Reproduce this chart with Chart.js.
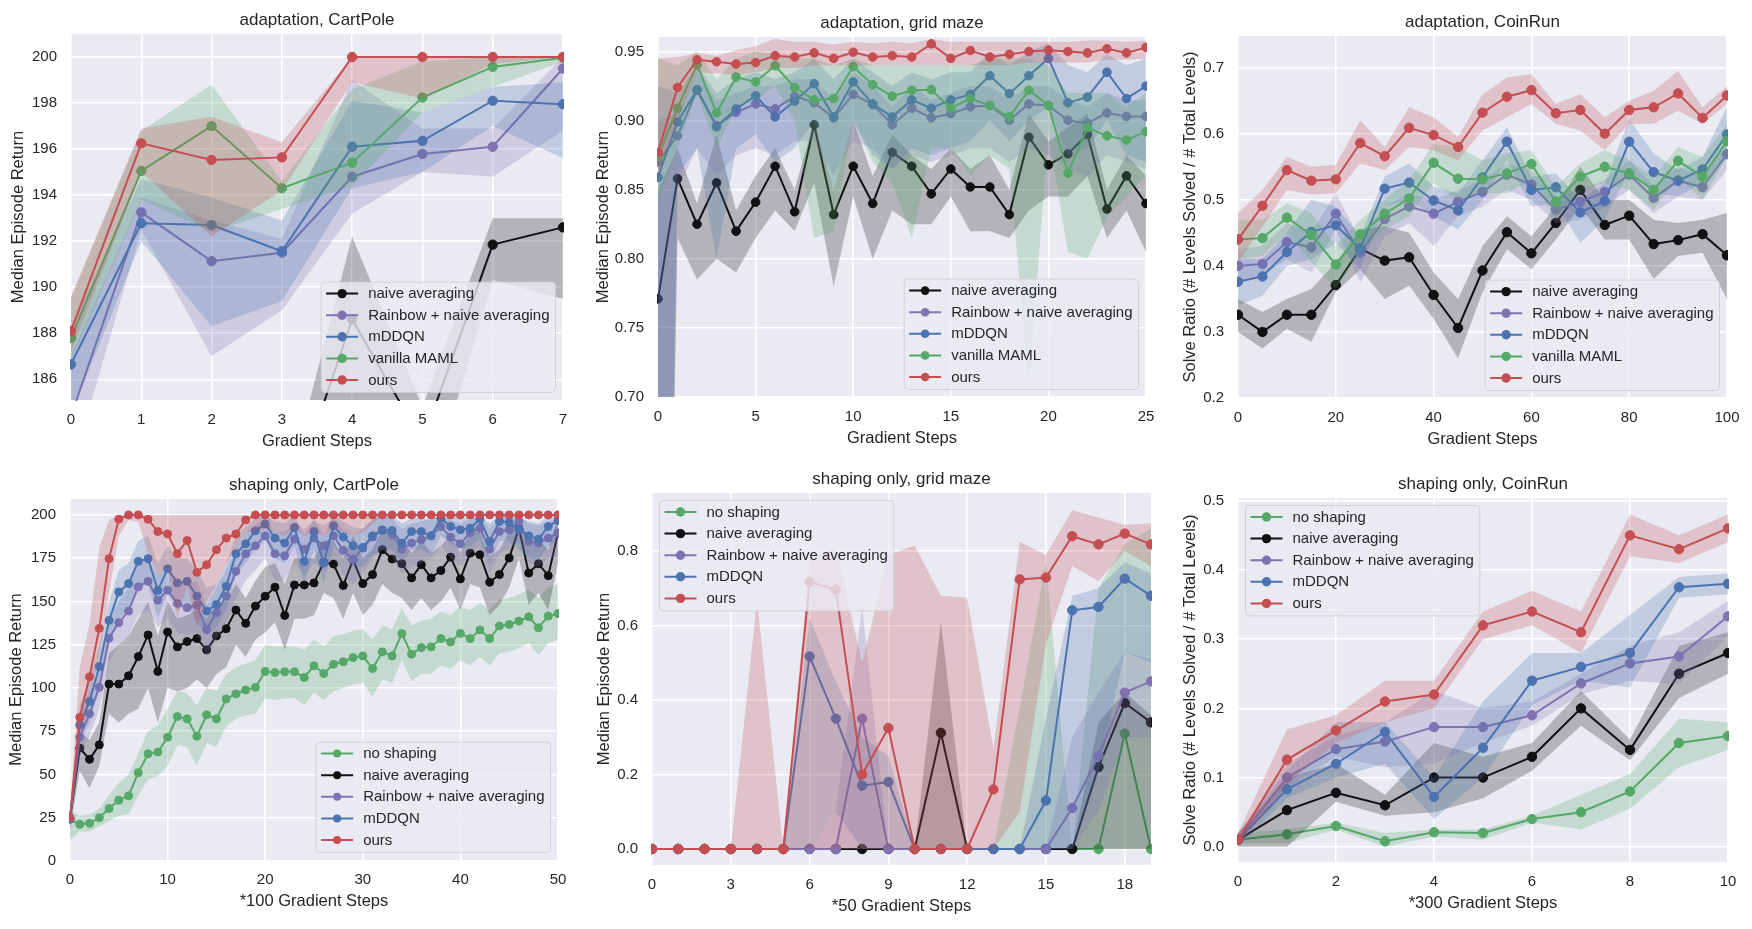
<!DOCTYPE html>
<html><head><meta charset="utf-8">
<script src="https://cdn.jsdelivr.net/npm/chart.js@4.4.1/dist/chart.umd.min.js"></script>
<style>
html,body{margin:0;padding:0;background:#fff;}
body{width:1752px;height:929px;position:relative;overflow:hidden;}
canvas{position:absolute;}
</style>
</head><body>
<script>
// ---------------- DATA ----------------
// Panel 1: adaptation, CartPole
const cpAdaptSteps = [0,1,2,3,4,5,6,7];
const cpAdaptNaive   = [null,null,null,179.6,188.6,183.3,191.85,192.6];
const cpAdaptNaiveLo = [null,null,null,176,181,180,190.3,189.5];
const cpAdaptNaiveHi = [null,null,null,180.4,192.2,184.8,193.0,193.0];
const cpAdaptRainbow   = [184.4,193.25,191.13,191.5,194.8,195.79,196.1,199.5];
const cpAdaptRainbowLo = [182,192.5,187.0,189.0,193.2,195.0,194.8,196.8];
const cpAdaptRainbowHi = [187,193.9,192.9,192.1,199.0,196.9,196.9,200];
const cpAdaptMddqn   = [186.65,192.78,192.7,191.56,196.1,196.36,198.1,197.95];
const cpAdaptMddqnLo = [184.5,192.0,188.3,189.4,194.3,195.0,197.0,195.6];
const cpAdaptMddqnHi = [188.3,194.7,193.9,192.9,198.1,197.6,198.7,198.9];
const cpAdaptMaml   = [187.8,195.05,197.0,194.3,195.41,198.24,199.57,199.97];
const cpAdaptMamlLo = [186.8,193.8,192.4,193.4,194.4,197.6,198.7,199.8];
const cpAdaptMamlHi = [189.5,196.8,198.8,194.6,198.6,199.8,200,200];
const cpAdaptOurs   = [188.1,196.25,195.53,195.64,200,200,200,200];
const cpAdaptOursLo = [187.2,195.0,192.2,194.2,198.9,198.2,199.7,200];
const cpAdaptOursHi = [189.6,196.9,197.4,196.3,200,200,200,200];
const cpAdaptYTicks = [186,188,190,192,194,196,198,200];
const cpAdaptYLabels = ['186','188','190','192','194','196','198','200'];
const cpAdaptXTicks = [0,1,2,3,4,5,6,7];
const cpAdaptXLabels = ['0','1','2','3','4','5','6','7'];

// Panel 2: adaptation, grid maze
const gmAdaptSteps = [0,1,2,3,4,5,6,7,8,9,10,11,12,13,14,15,16,17,18,19,20,21,22,23,24,25];
const gmAdaptNaive   = [0.771,0.858,0.825,0.855,0.820,0.841,0.867,0.834,0.897,0.832,0.867,0.840,0.877,0.867,0.847,0.865,0.852,0.852,0.832,0.888,0.868,0.876,0.890,0.836,0.860,0.840];
const gmAdaptNaiveLo = [0.0,0.815,0.785,0.80,0.79,0.815,0.835,0.82,0.855,0.78,0.845,0.80,0.835,0.825,0.825,0.845,0.82,0.82,0.815,0.835,0.845,0.845,0.86,0.815,0.835,0.805];
const gmAdaptNaiveHi = [0.85,0.88,0.84,0.89,0.835,0.86,0.88,0.85,0.90,0.85,0.90,0.86,0.89,0.875,0.865,0.88,0.865,0.875,0.85,0.905,0.885,0.895,0.905,0.85,0.875,0.86];
const gmAdaptRainbow   = [0.87,0.889,0.922,0.8965,0.906,0.912,0.9085,0.9176,0.913,0.902,0.919,0.9116,0.897,0.909,0.902,0.905,0.91,0.911,0.9003,0.912,0.911,0.9003,0.898,0.9056,0.903,0.903];
const gmAdaptRainbowLo = [0.05,0.85,0.88,0.86,0.875,0.88,0.875,0.885,0.885,0.86,0.885,0.88,0.865,0.875,0.87,0.875,0.88,0.88,0.87,0.88,0.875,0.865,0.86,0.875,0.87,0.865];
const gmAdaptRainbowHi = [0.90,0.905,0.935,0.915,0.92,0.925,0.925,0.93,0.93,0.915,0.935,0.925,0.91,0.925,0.915,0.92,0.925,0.925,0.915,0.925,0.925,0.915,0.91,0.92,0.915,0.915];
const gmAdaptMddqn   = [0.859,0.899,0.9224,0.8955,0.9085,0.918,0.9027,0.914,0.9267,0.9027,0.928,0.912,0.9027,0.915,0.909,0.915,0.919,0.9325,0.9195,0.9325,0.945,0.913,0.917,0.935,0.916,0.925];
const gmAdaptMddqnLo = [0.05,0.86,0.88,0.80,0.88,0.89,0.87,0.88,0.90,0.85,0.90,0.875,0.865,0.88,0.875,0.88,0.885,0.90,0.885,0.90,0.91,0.875,0.88,0.90,0.875,0.87];
const gmAdaptMddqnHi = [0.925,0.92,0.94,0.92,0.93,0.935,0.93,0.935,0.945,0.93,0.945,0.935,0.925,0.935,0.93,0.935,0.935,0.95,0.94,0.95,0.956,0.94,0.935,0.948,0.94,0.945];
const gmAdaptMaml   = [0.874,0.909,0.9404,0.9056,0.9315,0.928,0.9397,0.924,0.915,0.916,0.939,0.926,0.9176,0.922,0.9224,0.909,0.916,0.911,0.9027,0.922,0.911,0.862,0.895,0.889,0.886,0.892];
const gmAdaptMamlLo = [0.84,0.88,0.92,0.88,0.91,0.915,0.925,0.90,0.815,0.82,0.90,0.87,0.855,0.815,0.88,0.88,0.86,0.875,0.865,0.71,0.89,0.805,0.80,0.83,0.845,0.86];
const gmAdaptMamlHi = [0.945,0.94,0.95,0.93,0.945,0.95,0.948,0.945,0.945,0.94,0.945,0.94,0.94,0.94,0.94,0.94,0.94,0.945,0.945,0.945,0.94,0.92,0.92,0.92,0.91,0.92];
const gmAdaptOurs   = [0.877,0.924,0.944,0.9426,0.941,0.942,0.947,0.946,0.949,0.945,0.9495,0.946,0.947,0.946,0.9555,0.945,0.9507,0.946,0.948,0.950,0.951,0.950,0.949,0.952,0.949,0.953];
const gmAdaptOursLo = [0.86,0.90,0.935,0.934,0.933,0.935,0.938,0.938,0.94,0.94,0.94,0.94,0.94,0.94,0.94,0.94,0.94,0.94,0.94,0.942,0.942,0.942,0.942,0.944,0.944,0.945];
const gmAdaptOursHi = [0.945,0.946,0.949,0.947,0.951,0.954,0.959,0.957,0.957,0.955,0.957,0.956,0.957,0.956,0.959,0.957,0.957,0.957,0.957,0.957,0.957,0.957,0.958,0.958,0.957,0.958];
const gmAdaptYTicks = [0.70,0.75,0.80,0.85,0.90,0.95];
const gmAdaptYLabels = ['0.70','0.75','0.80','0.85','0.90','0.95'];
const gmAdaptXTicks = [0,5,10,15,20,25];
const gmAdaptXLabels = ['0','5','10','15','20','25'];

// Panel 3: adaptation, CoinRun
const crAdaptSteps = [0,5,10,15,20,25,30,35,40,45,50,55,60,65,70,75,80,85,90,95,100];
const crAdaptNaive   = [0.326,0.300,0.326,0.326,0.371,0.426,0.408,0.413,0.356,0.306,0.393,0.451,0.419,0.465,0.515,0.462,0.476,0.433,0.439,0.448,0.416];
const crAdaptNaiveLo = [0.30,0.275,0.305,0.285,0.36,0.395,0.35,0.37,0.32,0.26,0.36,0.425,0.395,0.44,0.49,0.44,0.44,0.38,0.415,0.42,0.35];
const crAdaptNaiveHi = [0.35,0.33,0.35,0.365,0.405,0.455,0.46,0.45,0.39,0.35,0.43,0.475,0.445,0.49,0.55,0.50,0.50,0.47,0.465,0.47,0.48];
const crAdaptRainbow   = [0.40,0.403,0.436,0.428,0.479,0.42,0.471,0.49,0.479,0.497,0.512,0.538,0.523,0.485,0.497,0.512,0.538,0.503,0.529,0.519,0.569];
const crAdaptRainbowLo = [0.375,0.385,0.41,0.39,0.455,0.375,0.445,0.465,0.43,0.475,0.49,0.515,0.50,0.465,0.47,0.49,0.515,0.48,0.505,0.50,0.545];
const crAdaptRainbowHi = [0.425,0.43,0.465,0.45,0.51,0.44,0.49,0.51,0.50,0.515,0.53,0.555,0.545,0.505,0.515,0.53,0.56,0.52,0.55,0.535,0.585];
const crAdaptMddqn   = [0.376,0.384,0.421,0.4515,0.4616,0.426,0.517,0.526,0.499,0.484,0.534,0.588,0.515,0.519,0.481,0.498,0.588,0.542,0.529,0.546,0.599];
const crAdaptMddqnLo = [0.34,0.355,0.40,0.41,0.435,0.395,0.49,0.50,0.475,0.455,0.50,0.56,0.49,0.495,0.435,0.47,0.545,0.51,0.505,0.525,0.565];
const crAdaptMddqnHi = [0.41,0.41,0.45,0.50,0.49,0.445,0.535,0.555,0.52,0.51,0.56,0.61,0.535,0.54,0.50,0.525,0.622,0.57,0.545,0.565,0.64];
const crAdaptMaml   = [0.44,0.442,0.473,0.447,0.402,0.448,0.479,0.502,0.556,0.532,0.531,0.540,0.554,0.497,0.535,0.550,0.540,0.515,0.559,0.535,0.589];
const crAdaptMamlLo = [0.41,0.415,0.45,0.405,0.365,0.42,0.455,0.475,0.525,0.50,0.51,0.51,0.53,0.47,0.515,0.525,0.515,0.485,0.535,0.50,0.565];
const crAdaptMamlHi = [0.47,0.47,0.495,0.48,0.43,0.47,0.50,0.53,0.585,0.58,0.56,0.57,0.575,0.52,0.555,0.575,0.56,0.535,0.58,0.565,0.615];
const crAdaptOurs   = [0.44,0.491,0.545,0.529,0.531,0.586,0.566,0.609,0.598,0.58,0.632,0.656,0.666,0.631,0.636,0.60,0.636,0.64,0.661,0.624,0.658];
const crAdaptOursLo = [0.405,0.46,0.515,0.508,0.51,0.555,0.545,0.58,0.575,0.56,0.605,0.625,0.645,0.615,0.605,0.575,0.615,0.615,0.635,0.615,0.645];
const crAdaptOursHi = [0.48,0.515,0.565,0.55,0.553,0.62,0.58,0.64,0.625,0.595,0.66,0.685,0.69,0.645,0.66,0.625,0.65,0.665,0.695,0.64,0.672];
const crAdaptYTicks = [0.2,0.3,0.4,0.5,0.6,0.7];
const crAdaptYLabels = ['0.2','0.3','0.4','0.5','0.6','0.7'];
const crAdaptXTicks = [0,20,40,60,80,100];
const crAdaptXLabels = ['0','20','40','60','80','100'];

// Panel 4: shaping only, CartPole
const cpShapeSteps = [0,1,2,3,4,5,6,7,8,9,10,11,12,13,14,15,16,17,18,19,20,21,22,23,24,25,26,27,28,29,30,31,32,33,34,35,36,37,38,39,40,41,42,43,44,45,46,47,48,49,50];
const cpShapeNoShaping   = [24,21.1,21.7,24.9,30.3,35.1,37.6,51,61.9,62.9,71.5,83.4,82.1,72.1,84.4,82.1,93.6,96.5,98.8,100.3,109.5,108.9,109.3,109.3,106,112.8,108.3,113.7,115.1,117.5,118.5,111.2,120.8,118.5,131.4,119.5,123.3,123.7,128.5,126.6,131.5,128.5,133.5,128.5,135.8,136.7,138.6,141.1,134.8,141.5,143];
const cpShapeNoShapingLo = [12,17,17,20,23,26,27,38,47,49,55,67,66,55,68,66,78,82,84,85,94,93,94,94,90,97,93,98,100,102,103,95,105,103,116,104,108,108,113,111,116,113,118,113,120,121,123,126,119,126,128];
const cpShapeNoShapingHi = [30,26,27,30,38,45,50,62,75,78,88,98,97,90,100,98,108,112,114,116,125,124,124,124,122,128,124,130,131,133,134,128,136,134,146,136,139,140,144,142,147,145,149,145,151,152,154,157,152,158,160];
const cpShapeNaive   = [24.5,65.2,58.7,67.1,102.2,102.2,107,118.1,130.6,109.5,132.3,123.7,126.8,128.5,122,130,134.2,145,137.3,147.3,153,158.2,141.9,159.5,159.5,160.7,172.6,171.6,159.2,174.1,160.3,165.5,179.9,174.5,171.8,163.6,171.2,163.6,167.8,175.6,163,177.9,177,161.1,165.5,175.1,192.3,166.4,171.8,164.9,189.5];
const cpShapeNaiveLo = [18,52,42,55,85,80,85,88,100,80,100,98,100,105,100,108,112,125,118,128,132,138,122,140,140,142,155,152,140,155,142,148,160,155,152,145,152,145,150,158,145,160,158,142,148,158,175,148,155,145,172];
const cpShapeNaiveHi = [28,75,70,80,120,125,130,140,150,130,150,140,142,145,140,148,150,160,152,162,170,172,160,175,175,175,185,185,175,188,175,180,192,188,185,178,185,178,182,188,178,190,190,176,180,190,200,182,186,180,198];
const cpShapeRainbow   = [24.5,71.5,85,100.3,128.7,137.7,144.4,158.4,161.6,150.7,156.5,148.8,146.3,147.8,133.8,143.4,153,167.4,177.6,182.2,187.9,177.6,176.4,186,180.2,186.6,182.2,187.9,179.5,174.1,180.8,187.2,191,188.5,180.2,183.7,185.6,187.9,193.3,187.2,183.3,189.8,192.3,180.2,190.4,191.4,196.2,184.7,183.7,186.6,189.5];
const cpShapeRainbowLo = [20,60,72,88,115,125,130,142,145,135,140,132,130,132,118,128,138,152,162,168,175,162,162,172,165,172,168,175,165,160,166,175,180,176,166,170,172,175,182,175,170,178,182,166,178,180,185,172,170,175,176];
const cpShapeRainbowHi = [28,82,98,112,140,150,158,172,175,165,170,162,160,162,148,158,168,180,190,194,198,190,190,196,192,196,194,198,192,188,192,197,200,198,192,195,196,198,200,197,195,198,200,192,199,200,200,195,194,196,198];
const cpShapeMddqn   = [24.5,78.6,92.2,112.4,139,155.5,160.3,173.2,174.7,156.3,168.9,160.7,161.6,153,144.4,148.2,158.8,177.6,183.3,190.8,194.8,186.6,183.7,192.7,173.2,190.4,172.3,193.7,187.2,182.2,181.2,187.9,191.4,191,183.7,190.4,190.4,187.9,198.1,193.3,191.4,192.3,197.5,184.7,196.2,195.6,191.4,187.9,186,193.3,196.7];
const cpShapeMddqnLo = [20,68,80,100,125,140,145,160,160,140,155,145,148,138,130,135,145,165,172,180,185,175,172,182,160,180,160,182,176,170,170,177,180,180,172,180,180,177,188,183,180,182,186,172,185,185,180,175,174,182,185];
const cpShapeMddqnHi = [28,90,105,125,150,168,172,185,188,172,182,175,175,168,158,160,172,188,193,198,200,196,195,200,188,198,188,200,196,193,192,197,200,200,195,198,198,197,200,200,198,199,200,195,200,200,199,196,195,199,200];
const cpShapeOurs   = [25,83,106.4,134.4,174.7,197.5,200,200,197.5,190.4,189,177.6,185.2,166.8,171.2,179.9,186.6,189,197.1,200,200,200,200,200,200,200,200,200,200,200,200,200,200,200,200,200,200,200,200,200,200,200,200,200,200,200,200,200,200,200,200];
const cpShapeOursLo = [20,68,95,118,155,188,197,196,178,165,170,140,160,135,150,160,172,180,190,190,192,190,188,192,188,190,188,192,190,188,190,195,200,200,200,200,200,200,200,200,200,200,200,200,200,200,200,200,200,200,200];
const cpShapeOursHi = [28,112,137,181,197,200,200,200,200,200,200,200,200,200,200,200,200,200,200,200,200,200,200,200,200,200,200,200,200,200,200,200,200,200,200,200,200,200,200,200,200,200,200,200,200,200,200,200,200,200,200];
const cpShapeYTicks = [0,25,50,75,100,125,150,175,200];
const cpShapeYLabels = ['0','25','50','75','100','125','150','175','200'];
const cpShapeXTicks = [0,10,20,30,40,50];
const cpShapeXLabels = ['0','10','20','30','40','50'];

// Panel 5: shaping only, grid maze
const gmShapeSteps = [0,1,2,3,4,5,6,7,8,9,10,11,12,13,14,15,16,17,18,19];
const gmShapeNoShaping   = [0,0,0,0,0,0,0,0,0,0,0,0,0,0,0,0,0,0,0.31,0];
const gmShapeNoShapingLo = [0,0,0,0,0,0,0,0,0,0,0,0,0,0,0,0,0,0,0,0];
const gmShapeNoShapingHi = [0,0,0,0,0,0,0,0,0,0,0,0,0,0,0.38,0.77,0,0.7,0.82,0.86];
const gmShapeNaive   = [0,0,0,0,0,0,0,0,0,0,0,0.312,0,0,0,0,0,0.22,0.392,0.34];
const gmShapeNaiveLo = [0,0,0,0,0,0,0,0,0,0,0,0,0,0,0,0,0,0,0,0];
const gmShapeNaiveHi = [0,0,0,0,0,0,0,0,0,0,0,0.61,0,0,0,0,0,0.34,0.42,0.36];
const gmShapeRainbow   = [0,0,0,0,0,0,0,0,0.35,0,0,0,0,0,0,0,0.11,0.25,0.42,0.45];
const gmShapeRainbowLo = [0,0,0,0,0,0,0,0,0,0,0,0,0,0,0,0,0,0.1,0.3,0.3];
const gmShapeRainbowHi = [0,0,0,0,0,0,0,0.1,0.65,0,0,0,0,0,0,0,0.3,0.42,0.53,0.51];
const gmShapeMddqn   = [0,0,0,0,0,0,0.517,0.35,0.17,0.18,0,0,0,0,0,0.13,0.641,0.65,0.726,0.68];
const gmShapeMddqnLo = [0,0,0,0,0,0,0,0.1,0,0,0,0,0,0,0,0,0,0.2,0.53,0.5];
const gmShapeMddqnHi = [0,0,0,0,0,0,0.62,0.45,0.3,0.25,0,0,0,0,0,0.35,0.68,0.70,0.77,0.74];
const gmShapeOurs   = [0,0,0,0,0,0,0.717,0.697,0.20,0.325,0,0,0,0.16,0.724,0.729,0.84,0.818,0.847,0.818];
const gmShapeOursLo = [0,0,0,0,0,0,0,0,0,0,0,0,0,0,0.1,0.55,0.76,0.72,0.80,0.76];
const gmShapeOursHi = [0,0,0,0,0.67,0,0.78,0.81,0.5,0.79,0.815,0.68,0.675,0.27,0.825,0.79,0.91,0.89,0.87,0.875];
const gmShapeYTicks = [0,0.2,0.4,0.6,0.8];
const gmShapeYLabels = ['0.0','0.2','0.4','0.6','0.8'];
const gmShapeXTicks = [0,3,6,9,12,15,18];
const gmShapeXLabels = ['0','3','6','9','12','15','18'];

// Panel 6: shaping only, CoinRun
const crShapeSteps = [0,1,2,3,4,5,6,7,8,9,10];
const crShapeNoShaping   = [0.01,0.018,0.03,0.008,0.021,0.02,0.04,0.05,0.08,0.15,0.16];
const crShapeNoShapingLo = [0.005,0.005,0.025,0.0,0.015,0.01,0.035,0.025,0.055,0.115,0.14];
const crShapeNoShapingHi = [0.02,0.025,0.035,0.02,0.025,0.025,0.045,0.075,0.105,0.185,0.18];
const crShapeNaive   = [0.01,0.053,0.078,0.06,0.1,0.1,0.13,0.2,0.14,0.25,0.28];
const crShapeNaiveLo = [0,0.0,0.065,0.045,0.05,0.07,0.11,0.175,0.125,0.215,0.25];
const crShapeNaiveHi = [0.02,0.1,0.12,0.075,0.15,0.13,0.15,0.225,0.155,0.29,0.31];
const crShapeRainbow   = [0.01,0.1,0.141,0.152,0.173,0.173,0.19,0.236,0.265,0.275,0.333];
const crShapeRainbowLo = [0.005,0.085,0.13,0.115,0.12,0.15,0.175,0.22,0.24,0.235,0.305];
const crShapeRainbowHi = [0.015,0.12,0.16,0.18,0.225,0.20,0.21,0.25,0.29,0.31,0.355];
const crShapeMddqn   = [0.01,0.083,0.12,0.166,0.072,0.143,0.24,0.26,0.28,0.375,0.38];
const crShapeMddqnLo = [0,0.07,0.1,0.12,0.04,0.10,0.205,0.24,0.23,0.36,0.365];
const crShapeMddqnHi = [0.02,0.11,0.18,0.18,0.10,0.21,0.28,0.28,0.335,0.39,0.395];
const crShapeOurs   = [0.01,0.126,0.168,0.21,0.22,0.32,0.34,0.31,0.45,0.43,0.46];
const crShapeOursLo = [0.0,0.09,0.15,0.18,0.20,0.30,0.32,0.28,0.42,0.41,0.44];
const crShapeOursHi = [0.02,0.17,0.19,0.24,0.24,0.34,0.37,0.34,0.48,0.45,0.48];
const crShapeYTicks = [0,0.1,0.2,0.3,0.4,0.5];
const crShapeYLabels = ['0.0','0.1','0.2','0.3','0.4','0.5'];
const crShapeXTicks = [0,2,4,6,8,10];
const crShapeXLabels = ['0','2','4','6','8','10'];

// ---------------- STYLE ----------------
const FAMILY = "'Liberation Sans', Arial, Helvetica, sans-serif";
const TXT = '#262626';
const COL = {naive:'#111111', rainbow:'#8172B2', mddqn:'#4C72B0', maml:'#55A868', ours:'#C44E52', none:'#55A868'};

function rgba(hex, a) {
  const n = parseInt(hex.slice(1), 16);
  return `rgba(${(n>>16)&255},${(n>>8)&255},${n&255},${a})`;
}
function pts(xs, ys) { return xs.map((x, i) => ({x: x, y: ys[i]})); }

function makePanel(p) {
  const AXW = 70, TOP = 32, XH = 60, RP = 25;
  const b = p.box;
  const w = b.R - b.L + AXW + RP, h = b.B - b.T + TOP + XH;
  const cv = document.createElement('canvas');
  cv.width = w; cv.height = h;
  cv.style.left = (b.L - AXW) + 'px'; cv.style.top = (b.T - TOP) + 'px';
  cv.style.width = w + 'px'; cv.style.height = h + 'px';
  document.body.appendChild(cv);

  const datasets = [];
  p.series.forEach((s, i) => {
    const base = 1000 - i * 10;
    datasets.push({label: '_lo', data: pts(p.x, s.lo), borderWidth: 0, pointRadius: 0, fill: false,
      borderColor: 'rgba(0,0,0,0)', order: base, clip: 0});
    datasets.push({label: '_hi', data: pts(p.x, s.hi), borderWidth: 0, pointRadius: 0, fill: '-1',
      borderColor: 'rgba(0,0,0,0)', backgroundColor: rgba(s.color, 0.25), order: base, clip: 0});
    datasets.push({label: s.label, data: pts(p.x, s.y), borderColor: s.color, backgroundColor: s.color,
      borderWidth: 2, pointRadius: p.r, pointBackgroundColor: s.color, pointBorderColor: s.color,
      pointBorderWidth: 1, fill: false, order: base - 1, clip: 1});
  });

  const bg = {id: 'bg' + p.id, beforeDraw(chart) {
    const a = chart.chartArea, ctx = chart.ctx;
    ctx.save(); ctx.fillStyle = '#EAEAF2';
    ctx.fillRect(a.left, a.top, a.right - a.left, a.bottom - a.top); ctx.restore();
  }};
  const deco = {id: 'deco' + p.id, afterDraw(chart) {
    const a = chart.chartArea, ctx = chart.ctx;
    ctx.save();
    // title
    ctx.font = `17px ${FAMILY}`; ctx.fillStyle = TXT; ctx.textAlign = 'center'; ctx.textBaseline = 'middle';
    ctx.fillText(p.title, (a.left + a.right) / 2, a.top - 14);
    // legend
    ctx.font = `15px ${FAMILY}`;
    const items = p.series;
    const tw = Math.max(...items.map(s => ctx.measureText(s.label).width));
    const bw = 47 + tw + 6, rowH = 21.6, bh = 11.5 + (items.length - 1) * rowH + 12.5;
    let bx, by;
    if (p.legend === 'lr') { bx = a.right - 7.5 - bw; by = a.bottom - 7.5 - bh; }
    else { bx = a.left + 7.5; by = a.top + 7.5; }
    const rr = 4;
    ctx.beginPath();
    ctx.moveTo(bx + rr, by); ctx.lineTo(bx + bw - rr, by); ctx.arcTo(bx + bw, by, bx + bw, by + rr, rr);
    ctx.lineTo(bx + bw, by + bh - rr); ctx.arcTo(bx + bw, by + bh, bx + bw - rr, by + bh, rr);
    ctx.lineTo(bx + rr, by + bh); ctx.arcTo(bx, by + bh, bx, by + bh - rr, rr);
    ctx.lineTo(bx, by + rr); ctx.arcTo(bx, by, bx + rr, by, rr); ctx.closePath();
    ctx.fillStyle = 'rgba(234,234,242,0.8)'; ctx.fill();
    ctx.strokeStyle = 'rgba(204,204,204,0.8)'; ctx.lineWidth = 1; ctx.stroke();
    items.forEach((s, i) => {
      const cy = by + 11.5 + i * rowH;
      ctx.strokeStyle = s.color; ctx.lineWidth = 2;
      ctx.beginPath(); ctx.moveTo(bx + 5, cy); ctx.lineTo(bx + 37, cy); ctx.stroke();
      ctx.fillStyle = s.color; ctx.beginPath(); ctx.arc(bx + 21, cy, p.r, 0, Math.PI * 2); ctx.fill();
      ctx.fillStyle = TXT; ctx.textAlign = 'left'; ctx.textBaseline = 'middle';
      ctx.fillText(s.label, bx + 47, cy + 0.5);
    });
    ctx.restore();
  }};

  return new Chart(cv, {
    type: 'line',
    data: {datasets},
    plugins: [bg, deco],
    options: {
      responsive: false, animation: false, events: [], devicePixelRatio: 1,
      layout: {padding: {top: TOP, right: RP, left: 0, bottom: 0}},
      elements: {line: {tension: 0}},
      plugins: {legend: {display: false}, tooltip: {enabled: false}, title: {display: false},
        filler: {propagate: false}},
      scales: {
        x: {type: 'linear', min: p.xMin, max: p.xMax,
          grid: {color: '#FFFFFF', lineWidth: 1.5, drawTicks: false},
          border: {display: false},
          afterBuildTicks: s => { s.ticks = p.xTicks.map(v => ({value: v})); },
          afterFit: s => { s.height = XH; },
          ticks: {autoSkip: false, maxRotation: 0, minRotation: 0, padding: 11, color: TXT,
            font: {family: FAMILY, size: 15}, callback: v => p.xLabels[p.xTicks.indexOf(v)]},
          title: {display: true, text: p.xTitle, color: TXT, font: {family: FAMILY, size: 16.5},
            padding: {top: 0, bottom: XH - 41 - 9.9}}
        },
        y: {type: 'linear', min: p.yMin, max: p.yMax,
          grid: {color: '#FFFFFF', lineWidth: 1.5, drawTicks: false},
          border: {display: false},
          afterBuildTicks: s => { s.ticks = p.yTicks.map(v => ({value: v})); },
          afterFit: s => { s.width = AXW; },
          ticks: {autoSkip: false, padding: 14, color: TXT, font: {family: FAMILY, size: 15},
            callback: v => p.yLabels[p.yTicks.indexOf(v)]},
          title: {display: true, text: p.yTitle, color: TXT, font: {family: FAMILY, size: 16.5},
            padding: {top: AXW - p.yTitleOff - 9.9, bottom: 0}}
        }
      }
    }
  });
}

const Y_RET = 'Median Episode Return';
const Y_SOLVE = 'Solve Ratio (# Levels Solved / # Total Levels)';

makePanel({id: 1, box: {L: 71, T: 34, R: 563, B: 400}, title: 'adaptation, CartPole',
  xTitle: 'Gradient Steps', yTitle: Y_RET, yTitleOff: 52.5, r: 4.7, legend: 'lr',
  x: cpAdaptSteps, xMin: 0, xMax: 7, yMin: 185.1, yMax: 201.0,
  xTicks: cpAdaptXTicks, xLabels: cpAdaptXLabels, yTicks: cpAdaptYTicks, yLabels: cpAdaptYLabels,
  series: [
    {label: 'naive averaging', color: COL.naive, y: cpAdaptNaive, lo: cpAdaptNaiveLo, hi: cpAdaptNaiveHi},
    {label: 'Rainbow + naive averaging', color: COL.rainbow, y: cpAdaptRainbow, lo: cpAdaptRainbowLo, hi: cpAdaptRainbowHi},
    {label: 'mDDQN', color: COL.mddqn, y: cpAdaptMddqn, lo: cpAdaptMddqnLo, hi: cpAdaptMddqnHi},
    {label: 'vanilla MAML', color: COL.maml, y: cpAdaptMaml, lo: cpAdaptMamlLo, hi: cpAdaptMamlHi},
    {label: 'ours', color: COL.ours, y: cpAdaptOurs, lo: cpAdaptOursLo, hi: cpAdaptOursHi}
  ]});

makePanel({id: 2, box: {L: 658, T: 37, R: 1146, B: 397}, title: 'adaptation, grid maze',
  xTitle: 'Gradient Steps', yTitle: Y_RET, yTitleOff: 55, r: 4.3, legend: 'lr',
  x: gmAdaptSteps, xMin: 0, xMax: 25, yMin: 0.70, yMax: 0.9605,
  xTicks: gmAdaptXTicks, xLabels: gmAdaptXLabels, yTicks: gmAdaptYTicks, yLabels: gmAdaptYLabels,
  series: [
    {label: 'naive averaging', color: COL.naive, y: gmAdaptNaive, lo: gmAdaptNaiveLo, hi: gmAdaptNaiveHi},
    {label: 'Rainbow + naive averaging', color: COL.rainbow, y: gmAdaptRainbow, lo: gmAdaptRainbowLo, hi: gmAdaptRainbowHi},
    {label: 'mDDQN', color: COL.mddqn, y: gmAdaptMddqn, lo: gmAdaptMddqnLo, hi: gmAdaptMddqnHi},
    {label: 'vanilla MAML', color: COL.maml, y: gmAdaptMaml, lo: gmAdaptMamlLo, hi: gmAdaptMamlHi},
    {label: 'ours', color: COL.ours, y: gmAdaptOurs, lo: gmAdaptOursLo, hi: gmAdaptOursHi}
  ]});

makePanel({id: 3, box: {L: 1238, T: 36, R: 1727, B: 398}, title: 'adaptation, CoinRun',
  xTitle: 'Gradient Steps', yTitle: Y_SOLVE, yTitleOff: 48, r: 4.7, legend: 'lr',
  x: crAdaptSteps, xMin: 0, xMax: 100, yMin: 0.2, yMax: 0.748,
  xTicks: crAdaptXTicks, xLabels: crAdaptXLabels, yTicks: crAdaptYTicks, yLabels: crAdaptYLabels,
  series: [
    {label: 'naive averaging', color: COL.naive, y: crAdaptNaive, lo: crAdaptNaiveLo, hi: crAdaptNaiveHi},
    {label: 'Rainbow + naive averaging', color: COL.rainbow, y: crAdaptRainbow, lo: crAdaptRainbowLo, hi: crAdaptRainbowHi},
    {label: 'mDDQN', color: COL.mddqn, y: crAdaptMddqn, lo: crAdaptMddqnLo, hi: crAdaptMddqnHi},
    {label: 'vanilla MAML', color: COL.maml, y: crAdaptMaml, lo: crAdaptMamlLo, hi: crAdaptMamlHi},
    {label: 'ours', color: COL.ours, y: crAdaptOurs, lo: crAdaptOursLo, hi: crAdaptOursHi}
  ]});

makePanel({id: 4, box: {L: 70, T: 499, R: 558, B: 860}, title: 'shaping only, CartPole',
  xTitle: '*100 Gradient Steps', yTitle: Y_RET, yTitleOff: 53.4, r: 4.0, legend: 'lr',
  x: cpShapeSteps, xMin: 0, xMax: 50, yMin: 0.5, yMax: 209.2,
  xTicks: cpShapeXTicks, xLabels: cpShapeXLabels, yTicks: cpShapeYTicks, yLabels: cpShapeYLabels,
  series: [
    {label: 'no shaping', color: COL.none, y: cpShapeNoShaping, lo: cpShapeNoShapingLo, hi: cpShapeNoShapingHi},
    {label: 'naive averaging', color: COL.naive, y: cpShapeNaive, lo: cpShapeNaiveLo, hi: cpShapeNaiveHi},
    {label: 'Rainbow + naive averaging', color: COL.rainbow, y: cpShapeRainbow, lo: cpShapeRainbowLo, hi: cpShapeRainbowHi},
    {label: 'mDDQN', color: COL.mddqn, y: cpShapeMddqn, lo: cpShapeMddqnLo, hi: cpShapeMddqnHi},
    {label: 'ours', color: COL.ours, y: cpShapeOurs, lo: cpShapeOursLo, hi: cpShapeOursHi}
  ]});

makePanel({id: 5, box: {L: 652, T: 493, R: 1151, B: 865}, title: 'shaping only, grid maze',
  xTitle: '*50 Gradient Steps', yTitle: Y_RET, yTitleOff: 48, r: 4.7, legend: 'ul',
  x: gmShapeSteps, xMin: 0, xMax: 19, yMin: -0.043, yMax: 0.956,
  xTicks: gmShapeXTicks, xLabels: gmShapeXLabels, yTicks: gmShapeYTicks, yLabels: gmShapeYLabels,
  series: [
    {label: 'no shaping', color: COL.none, y: gmShapeNoShaping, lo: gmShapeNoShapingLo, hi: gmShapeNoShapingHi},
    {label: 'naive averaging', color: COL.naive, y: gmShapeNaive, lo: gmShapeNaiveLo, hi: gmShapeNaiveHi},
    {label: 'Rainbow + naive averaging', color: COL.rainbow, y: gmShapeRainbow, lo: gmShapeRainbowLo, hi: gmShapeRainbowHi},
    {label: 'mDDQN', color: COL.mddqn, y: gmShapeMddqn, lo: gmShapeMddqnLo, hi: gmShapeMddqnHi},
    {label: 'ours', color: COL.ours, y: gmShapeOurs, lo: gmShapeOursLo, hi: gmShapeOursHi}
  ]});

makePanel({id: 6, box: {L: 1238, T: 498, R: 1728, B: 862}, title: 'shaping only, CoinRun',
  xTitle: '*300 Gradient Steps', yTitle: Y_SOLVE, yTitleOff: 48, r: 4.7, legend: 'ul',
  x: crShapeSteps, xMin: 0, xMax: 10, yMin: -0.022, yMax: 0.504,
  xTicks: crShapeXTicks, xLabels: crShapeXLabels, yTicks: crShapeYTicks, yLabels: crShapeYLabels,
  series: [
    {label: 'no shaping', color: COL.none, y: crShapeNoShaping, lo: crShapeNoShapingLo, hi: crShapeNoShapingHi},
    {label: 'naive averaging', color: COL.naive, y: crShapeNaive, lo: crShapeNaiveLo, hi: crShapeNaiveHi},
    {label: 'Rainbow + naive averaging', color: COL.rainbow, y: crShapeRainbow, lo: crShapeRainbowLo, hi: crShapeRainbowHi},
    {label: 'mDDQN', color: COL.mddqn, y: crShapeMddqn, lo: crShapeMddqnLo, hi: crShapeMddqnHi},
    {label: 'ours', color: COL.ours, y: crShapeOurs, lo: crShapeOursLo, hi: crShapeOursHi}
  ]});
</script>
</body></html>
